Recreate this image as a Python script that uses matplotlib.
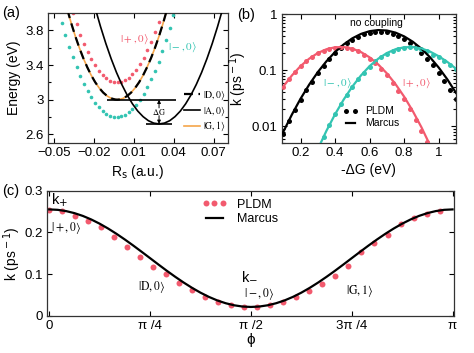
import numpy as np
import matplotlib
matplotlib.use('Agg')
import matplotlib.pyplot as plt
from matplotlib.font_manager import FontProperties
from matplotlib.ticker import FixedLocator, MultipleLocator, LogLocator, NullFormatter, FixedFormatter

plt.rcParams['font.family'] = ['Liberation Sans', 'DejaVu Sans']

# ---------------- data: panel (a) ----------------
R_D0 = [-0.040, -0.037, -0.034, -0.031, -0.028, -0.025, -0.022, -0.019, -0.016, -0.013,
        -0.010, -0.007, -0.004, -0.0025, -0.001, 0.002, 0.005, 0.008, 0.011, 0.014, 0.017,
        0.020, 0.023, 0.026, 0.029, 0.032, 0.035]
E_D0 = [4.041, 3.881, 3.734, 3.601, 3.481, 3.375, 3.281, 3.201, 3.135, 3.082,
        3.042, 3.015, 3.002, 3.000, 3.002, 3.015, 3.042, 3.082, 3.135, 3.201, 3.281,
        3.375, 3.481, 3.601, 3.734, 3.881, 4.041]
E_G1 = [4.041, 3.881, 3.734, 3.601, 3.481, 3.375, 3.281, 3.201, 3.135, 3.082,
        3.042, 3.015, 3.002, 3.000, 3.002, 3.015, 3.042, 3.082, 3.135, 3.201, 3.281,
        3.375, 3.481, 3.601, 3.734, 3.881, 4.041]
R_A0 = [-0.019, -0.015, -0.011, -0.007, -0.003, 0.001, 0.005, 0.009, 0.013, 0.017, 0.021,
        0.025, 0.029, 0.033, 0.037, 0.041, 0.045, 0.049, 0.053, 0.057, 0.061, 0.065,
        0.069, 0.073, 0.077]
E_A0 = [4.056, 3.843, 3.648, 3.472, 3.314, 3.175, 3.054, 2.952, 2.868, 2.804, 2.757,
        2.729, 2.720, 2.729, 2.757, 2.804, 2.868, 2.952, 3.054, 3.175, 3.314, 3.472,
        3.648, 3.843, 4.056]
R_minus = [-0.0442, -0.0414, -0.0386, -0.0358, -0.0330, -0.0302, -0.0274, -0.0246, -0.0218,
           -0.0190, -0.0162, -0.0134, -0.0106, -0.0078, -0.0050, -0.0022, 0.0006, 0.0034,
           0.0062, 0.0090, 0.0118, 0.0146, 0.0174, 0.0202, 0.0230, 0.0258, 0.0286, 0.0314,
           0.0342, 0.0370, 0.0398]
E_minus = [3.886, 3.744, 3.611, 3.489, 3.376, 3.274, 3.181, 3.099, 3.026,
           2.964, 2.912, 2.869, 2.837, 2.815, 2.803, 2.800, 2.808, 2.826,
           2.854, 2.892, 2.940, 2.998, 3.066, 3.144, 3.233, 3.331, 3.439, 3.557,
           3.686, 3.824, 3.972]
R_plus = [-0.0358, -0.0330, -0.0302, -0.0274, -0.0246, -0.0218, -0.0190, -0.0162, -0.0134,
          -0.0106, -0.0078, -0.0050, -0.0022, 0.0006, 0.0034, 0.0062, 0.0090, 0.0118,
          0.0146, 0.0174, 0.0202, 0.0230, 0.0258, 0.0286]
E_plus = [3.998, 3.870, 3.752, 3.646, 3.552, 3.468, 3.396, 3.335, 3.286,
          3.247, 3.220, 3.205, 3.200, 3.207, 3.225, 3.254, 3.295, 3.347,
          3.411, 3.485, 3.571, 3.668, 3.777, 3.896]
level_E = [3.0, 2.72]
level_R_start = [-0.0105, 0.019]
level_R_end = [0.0415, 0.039]
dG_arrow_R = 0.029

# ---------------- data: panel (b) ----------------
dG_line = [0.09, 0.10, 0.15, 0.20, 0.25, 0.30, 0.35, 0.40, 0.45, 0.50, 0.55, 0.60, 0.65,
           0.70, 0.75, 0.80, 0.85, 0.90, 0.95, 1.00, 1.05, 1.10]
k_nocoup_line = [0.0068, 0.00789, 0.0161, 0.0308, 0.0551, 0.0921, 0.144, 0.211, 0.288, 0.370,
                 0.443, 0.496, 0.519, 0.509, 0.467, 0.400, 0.321, 0.241, 0.169, 0.111,
                 0.0682, 0.0392]
k_plus_line = [0.0461, 0.0509, 0.0804, 0.118, 0.160, 0.202, 0.236, 0.256, 0.258, 0.242,
               0.210, 0.169, 0.126, 0.0873, 0.0561, 0.0335, 0.0185, 0.00953, 0.00454,
               0.00201, 0.0009, 0.0004]
dG_line_m = [0.30, 0.35, 0.40, 0.45, 0.50, 0.55, 0.60, 0.65, 0.70, 0.75, 0.80, 0.85, 0.90,
             0.95, 1.00, 1.05, 1.10]
k_minus_line = [0.00388, 0.00826, 0.0163, 0.0299, 0.0509, 0.0804, 0.118, 0.160, 0.202,
                0.236, 0.256, 0.258, 0.244, 0.214, 0.177, 0.140, 0.106]

dG_dots = [0.100, 0.133, 0.167, 0.200, 0.233, 0.267, 0.300, 0.333, 0.367, 0.400, 0.433,
           0.467, 0.500, 0.533, 0.567, 0.600, 0.633, 0.667, 0.700, 0.733, 0.767, 0.800,
           0.833, 0.867, 0.900, 0.933, 0.967, 1.000, 1.033, 1.067, 1.100]
k_nocoup_dots = [0.0071, 0.0122, 0.0191, 0.0293, 0.0434, 0.0626, 0.0875, 0.119, 0.157, 0.200,
                 0.249, 0.300, 0.350, 0.395, 0.435, 0.465, 0.480, 0.485, 0.470, 0.445, 0.405,
                 0.355, 0.305, 0.255, 0.205, 0.160, 0.122, 0.090, 0.065, 0.045, 0.031]
k_plus_dots = [0.050, 0.069, 0.091, 0.117, 0.145, 0.173, 0.200, 0.222, 0.240, 0.250, 0.255,
               0.250, 0.235, 0.215, 0.190, 0.160, 0.132, 0.105, 0.081, 0.060, 0.043, 0.030,
               0.020, 0.013, 0.0083, 0.0051]
k_minus_dots = [0.0065, 0.0105, 0.0165, 0.025, 0.036, 0.050, 0.068, 0.090, 0.115, 0.143,
                0.170, 0.197, 0.220, 0.240, 0.250, 0.255, 0.250, 0.236, 0.216, 0.190,
                0.170, 0.148, 0.125, 0.105]

# ---------------- data: panel (c) ----------------
phi_line_deg = [0, 3.75, 7.5, 11.25, 15, 18.75, 22.5, 26.25, 30, 33.75, 37.5, 41.25, 45,
                48.75, 52.5, 56.25, 60, 63.75, 67.5, 71.25, 75, 78.75, 82.5, 86.25, 90,
                93.75, 97.5, 101.25, 105, 108.75, 112.5, 116.25, 120, 123.75, 127.5,
                131.25, 135, 138.75, 142.5, 146.25, 150, 153.75, 157.5, 161.25, 165,
                168.75, 172.5, 176.25, 180]
k_marcus_phi = [0.255, 0.2540, 0.2510, 0.2461, 0.2394, 0.2309, 0.2208, 0.2093, 0.1966, 0.1829,
                0.1685, 0.1535, 0.1383, 0.1230, 0.1080, 0.0936, 0.0799, 0.0672, 0.0557,
                0.0456, 0.0371, 0.0304, 0.0255, 0.0225, 0.0215,
                0.0225, 0.0255, 0.0304, 0.0371, 0.0456, 0.0557, 0.0672, 0.0799, 0.0936,
                0.1080, 0.1230, 0.1383, 0.1535, 0.1685, 0.1829, 0.1966, 0.2093, 0.2208,
                0.2309, 0.2394, 0.2461, 0.2510, 0.2540, 0.255]
phi_dots_index = list(range(31))   # phi = i*pi/31
k_pldm_phi = [0.254, 0.252, 0.240, 0.228, 0.213, 0.188, 0.164, 0.140, 0.118, 0.100, 0.079,
              0.061, 0.046, 0.033, 0.025, 0.021, 0.021, 0.025, 0.033, 0.045, 0.060, 0.077,
              0.096, 0.120, 0.154, 0.174, 0.194, 0.220, 0.234, 0.245, 0.251]

PINK = '#f25a6e'
TEAL = '#33c4b2'
ORANGE = '#f5a54a'
KET = dict(math_fontfamily='stix')

fig = plt.figure(figsize=(4.74, 3.53), dpi=100)
axA = fig.add_axes([0.1013, 0.595, 0.3787, 0.368])
axB = fig.add_axes([0.594, 0.595, 0.368, 0.365])
axC = fig.add_axes([0.0985, 0.105, 0.8595, 0.355])

for ax in (axA, axB, axC):
    ax.tick_params(direction='in', which='both', top=True, right=True, labelsize=9.5,
                   width=0.8, pad=3)
    ax.tick_params(which='major', length=3.5)
    ax.tick_params(which='minor', length=2)
    for s in ax.spines.values():
        s.set_linewidth(0.9)
        s.set_color('#333333')

# ---- panel (a)
axA.plot(R_minus, E_minus, 'o', ms=2.6, color=TEAL, mec='none', zorder=2)
axA.plot(R_plus, E_plus, 'o', ms=2.6, color=PINK, mec='none', zorder=2)
lG, = axA.plot(R_D0, E_G1, color=ORANGE, lw=1.2, zorder=3)
lD, = axA.plot(R_D0, E_D0, color='k', lw=1.6, ls=(0, (4, 2.5)), zorder=4)
lA, = axA.plot(R_A0, E_A0, color='k', lw=1.2, zorder=4)
axA.hlines(level_E, level_R_start, level_R_end, colors='k', lw=1.2, zorder=4)
axA.annotate('', xy=(dG_arrow_R, level_E[0]), xytext=(dG_arrow_R, 2.905),
             arrowprops=dict(arrowstyle='-|>', lw=0.7, color='k', mutation_scale=5,
                             shrinkA=0, shrinkB=0))
axA.annotate('', xy=(dG_arrow_R, level_E[1]), xytext=(dG_arrow_R, 2.815),
             arrowprops=dict(arrowstyle='-|>', lw=0.7, color='k', mutation_scale=5,
                             shrinkA=0, shrinkB=0))
axA.text(dG_arrow_R, 2.86, r'$\Delta\mathrm{G}$', fontsize=6, ha='center', va='center', **KET)
axA.text(0.0105, 3.695, r'$|+,0\rangle$', color=PINK, fontsize=8, ha='center', va='center', **KET)
axA.text(0.0465, 3.60, r'$|-,0\rangle$', color=TEAL, fontsize=8, ha='center', va='center', **KET)
axA.set_xlim(-0.0545, 0.0805)
axA.set_ylim(2.5, 4.0)
axA.xaxis.set_major_locator(FixedLocator([-0.05, -0.02, 0.01, 0.04, 0.07]))
axA.xaxis.set_major_formatter(FixedFormatter(['\u22120.05', '\u22120.02', '0.01', '0.04', '0.07']))
axA.yaxis.set_major_locator(FixedLocator([2.6, 3.0, 3.4, 3.8]))
axA.yaxis.set_major_formatter(FixedFormatter(['2.6', '3', '3.4', '3.8']))
axA.yaxis.set_minor_locator(FixedLocator([2.8, 3.2, 3.6]))
axA.set_ylabel('Energy (eV)', fontsize=10, labelpad=3)
axA.set_xlabel(r'R$_{\rm s}$ (a.u.)', fontsize=10, labelpad=3, math_fontfamily='dejavusans')
legA = axA.legend([lD, lA, lG], [r'$|\mathrm{D},0\rangle$', r'$|\mathrm{A},0\rangle$',
                                 r'$|\mathrm{G},1\rangle$'],
                  loc='lower right', bbox_to_anchor=(1.0, 0.06), frameon=False,
                  prop=FontProperties(size=7, math_fontfamily='stix'),
                  handlelength=1.6, handletextpad=0.3, labelspacing=0.25, borderpad=0.1,
                  borderaxespad=0.1)

# ---- panel (b)
axB.set_yscale('log')
axB.plot(dG_dots[:len(k_nocoup_dots)], k_nocoup_dots, 'o', ms=3.6, color='k', mec='none', zorder=2)
axB.plot(dG_dots[:len(k_plus_dots)], k_plus_dots, 'o', ms=3.6, color=PINK, mec='none', zorder=2)
axB.plot(dG_dots[7:7 + len(k_minus_dots)], k_minus_dots, 'o', ms=3.6, color=TEAL, mec='none', zorder=2)
axB.plot(dG_line, k_nocoup_line, color='k', lw=1.6, zorder=3)
axB.plot(dG_line, k_plus_line, color=PINK, lw=1.6, zorder=3)
axB.plot(dG_line_m, k_minus_line, color=TEAL, lw=1.6, zorder=3)
axB.set_xlim(0.09, 1.1)
axB.set_ylim(0.005, 1.0)
axB.xaxis.set_major_locator(FixedLocator([0.2, 0.4, 0.6, 0.8, 1.0]))
axB.xaxis.set_major_formatter(FixedFormatter(['0.2', '0.4', '0.6', '0.8', '1']))
axB.yaxis.set_major_locator(FixedLocator([0.01, 0.1, 1.0]))
axB.yaxis.set_major_formatter(FixedFormatter(['0.01', '0.1', '1']))
axB.yaxis.set_minor_locator(LogLocator(base=10, subs=np.arange(2, 10)))
axB.yaxis.set_minor_formatter(NullFormatter())
axB.set_xlabel('-\u0394G (eV)', fontsize=10, labelpad=3)
axB.set_ylabel(r'k (ps$^{\rm -1}$)', fontsize=10, labelpad=2, math_fontfamily='dejavusans')
axB.text(0.637, 0.70, 'no coupling', fontsize=7.5, ha='center', va='center')
axB.text(0.414, 0.057, r'$|-,0\rangle$', color=TEAL, fontsize=8, ha='center', va='center', **KET)
axB.text(0.869, 0.057, r'$|+,0\rangle$', color=PINK, fontsize=8, ha='center', va='center', **KET)
hB1, = axB.plot([], [], 'o', ms=3.6, color='k', mec='none')
hB2, = axB.plot([], [], color='k', lw=1.6)
axB.legend([hB1, hB2], ['PLDM', 'Marcus'], loc='upper left', bbox_to_anchor=(0.34, 0.30),
           frameon=False, fontsize=7.5, numpoints=2, handlelength=1.5, handletextpad=0.6,
           labelspacing=0.2, borderpad=0.1, borderaxespad=0.1)

# ---- panel (c)
phi_line = np.deg2rad(phi_line_deg)
phi_dots = np.array(phi_dots_index) * np.pi / 31
axC.plot(phi_dots, k_pldm_phi, 'o', ms=4.3, color=PINK, mec='none', zorder=2, label='PLDM')
axC.plot(phi_line, k_marcus_phi, color='k', lw=1.6, zorder=3, label='Marcus')
axC.set_xlim(-0.02, np.pi + 0.012)
axC.set_ylim(0, 0.3)
axC.xaxis.set_major_locator(FixedLocator([0, np.pi / 4, np.pi / 2, 3 * np.pi / 4, np.pi]))
axC.xaxis.set_major_formatter(FixedFormatter(['0', '\u03c0 /4', '\u03c0 /2', '3\u03c0 /4', '\u03c0']))
axC.yaxis.set_major_locator(FixedLocator([0, 0.1, 0.2, 0.3]))
axC.yaxis.set_major_formatter(FixedFormatter(['0', '0.1', '0.2', '0.3']))
axC.set_xlabel('\u03d5', fontsize=11, labelpad=1)
axC.set_ylabel(r'k (ps$^{\rm -1}$)', fontsize=10, labelpad=1, math_fontfamily='dejavusans')
axC.legend(loc='upper left', bbox_to_anchor=(0.375, 0.955), frameon=False, fontsize=9,
           numpoints=3, handlelength=2.0, handletextpad=0.8, labelspacing=0.2,
           borderpad=0.1, borderaxespad=0.1)
axC.text(0.083, 0.278, r'k$_{+}$', fontsize=10.5, ha='center', va='center', math_fontfamily='dejavusans')
axC.text(1.563, 0.096, r'k$_{-}$', fontsize=10.5, ha='center', va='center', math_fontfamily='dejavusans')
axC.text(0.13, 0.21, r'$|+,0\rangle$', fontsize=8.5, ha='center', va='center', **KET)
axC.text(0.80, 0.07, r'$|\mathrm{D},0\rangle$', fontsize=8.5, ha='center', va='center', **KET)
axC.text(1.633, 0.0527, r'$|-,0\rangle$', fontsize=8.5, ha='center', va='center', **KET)
axC.text(2.42, 0.0606, r'$|\mathrm{G},1\rangle$', fontsize=8.5, ha='center', va='center', **KET)

fig.text(0.004, 0.963, '(a)', fontsize=10.5, ha='left', va='center')
fig.text(0.50, 0.958, '(b)', fontsize=10.5, ha='left', va='center')
fig.text(0.004, 0.459, '(c)', fontsize=10.5, ha='left', va='center')

fig.savefig('out.png', dpi=100)
